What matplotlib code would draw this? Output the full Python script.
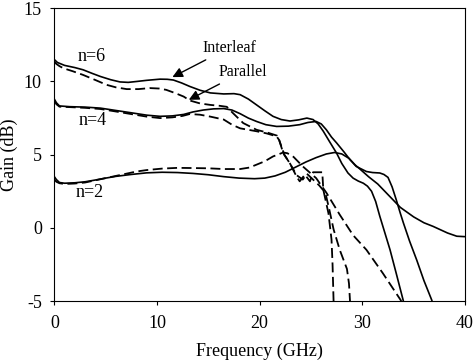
import matplotlib
matplotlib.use("Agg")
from matplotlib import pyplot as plt

# gain curves (GHz, dB)
f_i6 = [0, 0.3, 1, 2, 2.8, 3.7, 4.5, 5.5, 6.4, 7.2, 8.0, 9.0, 10.3, 11.0, 11.6,
        12.4, 13.2, 14.2, 15.2, 16.5, 17.5, 18.1, 18.9, 19.7, 20.5, 21.3, 22.1,
        22.95, 23.8, 24.6, 25.2, 25.7, 26.2, 26.8, 27.5, 28.0, 28.6, 29.1, 29.6,
        30.1, 30.5, 30.9, 31.3, 31.7, 32.2, 32.7, 33.3, 34.0]
g_i6 = [11.5, 11.3, 11.1, 10.95, 10.8, 10.55, 10.34, 10.12, 9.97, 9.94, 10.0,
        10.08, 10.16, 10.15, 10.1, 9.9, 9.66, 9.4, 9.22, 9.15, 9.17, 9.1, 8.8,
        8.4, 8.0, 7.62, 7.4, 7.3, 7.38, 7.5, 7.4, 7.1, 6.6, 5.9, 5.1, 4.4, 3.75,
        3.4, 3.2, 3.05, 2.85, 2.5, 1.8, 0.8, -0.35, -1.5, -3.1, -5.0]

f_i4 = [0, 0.2, 0.5, 1.5, 3, 4.5, 6, 7.7, 9, 10.3, 11.5, 12.6, 13.5, 14.5, 15.5,
        16.5, 17.3, 18.1, 18.9, 19.7, 20.6, 21.65, 22.8, 23.9, 24.7, 25.5, 26.0,
        26.5, 27.0, 27.5, 28.2, 28.8, 29.4, 30.4, 31.0, 31.7, 32.1, 32.5, 32.9,
        33.3, 33.7, 34.0, 34.6, 35.3, 36.0, 36.8]
g_i4 = [8.8, 8.55, 8.33, 8.28, 8.25, 8.18, 8.02, 7.84, 7.7, 7.62, 7.65, 7.75,
        7.92, 8.05, 8.13, 8.15, 8.05, 7.8, 7.5, 7.27, 7.05, 6.93, 6.95, 7.05,
        7.2, 7.27, 7.1, 6.7, 6.2, 5.8, 5.2, 4.66, 4.2, 3.85, 3.78, 3.75, 3.65,
        3.45, 2.8, 1.93, 1.0, 0.34, -0.9, -2.2, -3.6, -5.0]

f_i2 = [0, 0.2, 0.5, 1, 2, 3, 4, 5, 6, 7.5, 9, 10.5, 12, 13.5, 15, 16.5, 18,
        19.5, 20.5, 21.5, 22.5, 23.5, 24.5, 25.5, 26.5, 27.3, 28.0, 28.7, 29.3,
        29.8, 30.6, 31.5, 32.6, 33.7, 35, 36, 36.9, 38.3, 39.2, 40]
g_i2 = [3.5, 3.3, 3.1, 3.05, 3.08, 3.15, 3.27, 3.4, 3.52, 3.65, 3.76, 3.8, 3.78,
        3.72, 3.63, 3.5, 3.4, 3.36, 3.4, 3.55, 3.8, 4.15, 4.5, 4.8, 5.05, 5.15,
        5.05, 4.75, 4.3, 4.0, 3.5, 3.0, 2.2, 1.4, 0.75, 0.35, 0.1, -0.35, -0.57,
        -0.6]

f_p6 = [0, 0.2, 0.5, 0.9, 1.8, 2.8, 4, 5.1, 6, 7.05, 8.2, 9.3, 10.2, 10.9, 11.8,
        12.6, 13.2, 14.2, 15.2, 16.1, 16.8, 17.4, 18.4, 19.7, 20.8, 21.7, 21.9,
        22.3, 22.95, 23.6, 23.9, 24.4, 24.9, 25.2, 26.1, 26.2, 26.7, 27.0, 27.1,
        27.2]
g_p6 = [11.35, 11.2, 11.05, 10.9, 10.7, 10.45, 10.1, 9.77, 9.6, 9.48, 9.48, 9.55,
        9.52, 9.43, 9.2, 8.97, 8.7, 8.5, 8.4, 8.34, 8.27, 7.84, 7.16, 6.7, 6.5,
        6.3, 6.0, 5.1, 4.4, 3.5, 3.18, 3.64, 3.18, 3.8, 3.8, 2.6, 1.0, -0.8,
        -2.5, -5.0]

f_p4 = [0, 0.2, 0.5, 1.5, 3, 4.5, 6, 7.7, 9, 10.3, 11.5, 12.5, 13.2, 14.2, 15.2,
        16.5, 17.3, 18.1, 19.7, 20.7, 21.65, 21.9, 22.4, 22.95, 23.6, 24.2, 24.6,
        25.2, 25.8, 26.4, 26.8, 27.2, 27.8, 28.5, 28.7, 28.8]
g_p4 = [8.7, 8.45, 8.28, 8.25, 8.2, 8.12, 7.95, 7.75, 7.6, 7.5, 7.55, 7.65, 7.78,
        7.73, 7.6, 7.4, 7.05, 6.8, 6.6, 6.45, 6.25, 6.0, 5.0, 4.4, 3.6, 3.3, 3.7,
        3.3, 2.9, 2.4, 1.2, -0.1, -1.5, -2.8, -3.8, -5.0]

f_p2 = [0, 0.2, 0.5, 1, 2, 3, 4, 5, 6, 7, 8, 9, 10.5, 12, 13.2, 15, 16.5, 18.1,
        19.0, 19.7, 20.5, 21.3, 22.3, 22.7, 23.3, 24.2, 25.5, 26.5, 27.8, 29.1,
        30.4, 32.0, 33.8]
g_p2 = [3.3, 3.15, 3.05, 3.0, 3.03, 3.1, 3.25, 3.4, 3.55, 3.7, 3.85, 3.95, 4.05,
        4.1, 4.09, 4.07, 4.02, 4.02, 4.12, 4.32, 4.55, 4.88, 5.15, 5.1, 4.85,
        4.2, 3.4, 2.4, 0.9, -0.5, -1.5, -3.1, -5.0]

plt.rcParams['font.family'] = ['Liberation Serif', 'DejaVu Serif']
plt.rcParams['axes.unicode_minus'] = False

fig = plt.figure(figsize=(4.74, 3.61), dpi=100)
ax = fig.add_axes([0.1146, 0.166, 0.8664, 0.811])

solid = dict(color='black', lw=1.2, solid_capstyle='butt')
dashed = dict(color='black', lw=1.3, linestyle=(0, (5.5, 2.5)))

ax.plot(f_i6, g_i6, **solid)
ax.plot(f_i4, g_i4, **solid)
ax.plot(f_i2, g_i2, **solid)
ax.plot(f_p6, g_p6, **dashed)
ax.plot(f_p4, g_p4, **dashed)
ax.plot(f_p2, g_p2, **dashed)

ax.set_xlim(0, 40)
ax.set_ylim(-5, 15)
ax.set_xticks([0, 10, 20, 30, 40])
ax.set_yticks([-5, 0, 5, 10, 15])
ax.tick_params(direction='out', length=3, width=0.8, labelsize=13)
ax.tick_params(axis='x', pad=7)
ax.tick_params(axis='y', pad=6)
ax.set_xlabel("Frequency (GHz)", fontsize=13, labelpad=8)
ax.set_ylabel("Gain (dB)", fontsize=13, labelpad=4)
for sp in ax.spines.values():
    sp.set_linewidth(0.8)

ax.text(3.65, 11.7, "n=6", fontsize=13, ha='center', va='center')
ax.text(3.7, 7.35, "n=4", fontsize=13, ha='center', va='center')
ax.text(3.4, 2.4, "n=2", fontsize=13, ha='center', va='center')

ax.annotate("Interleaf", xy=(11.5, 10.3), xytext=(14.4, 12.3), fontsize=11.5,
            va='center', ha='left',
            arrowprops=dict(arrowstyle='-|>', color='black', lw=1.0,
                            shrinkA=2, shrinkB=0, mutation_scale=15))
ax.annotate("Parallel", xy=(13.1, 8.75), xytext=(16.0, 10.65), fontsize=11.5,
            va='center', ha='left',
            arrowprops=dict(arrowstyle='-|>', color='black', lw=1.0,
                            shrinkA=2, shrinkB=0, mutation_scale=15))

fig.savefig("out.png", dpi=100)
